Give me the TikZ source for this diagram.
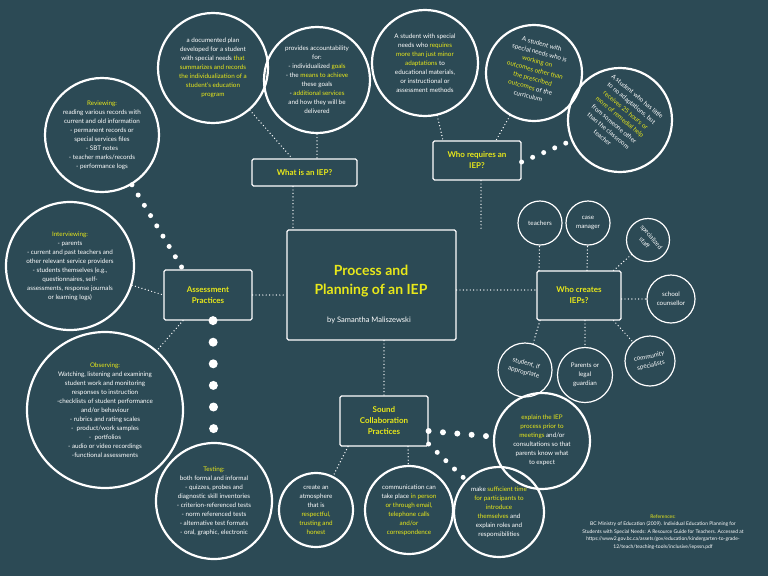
\documentclass[tikz,border=0pt]{standalone}
\usepackage{fontspec}
\setmainfont{Lato}
\begin{document}
\begin{tikzpicture}[x=1pt,y=-1pt,
  bubble/.style={circle,draw=white,line width=2.2pt,text=white,align=center,inner sep=0pt,font=\fontsize{6.3}{9}\selectfont},
  small/.style={circle,draw=white,line width=1.2pt,text=white,align=center,inner sep=0pt,font=\fontsize{6.3}{9}\selectfont},
  rtext/.style={text=white,align=center,font=\fontsize{6.3}{9}\selectfont},
  topic/.style={draw=white,line width=1.2pt,rounded corners=1.5pt,text=hl,align=center,font=\fontsize{8}{11}\bfseries\selectfont,inner sep=0pt},
  dotline/.style={draw=white,line width=1.4pt,line cap=round,dash pattern=on 0pt off 3.4pt},
  bigdots/.style={draw=white,line width=#1,line cap=round,dash pattern=on 0pt off 2.4*#1},
  bigdots/.default=6pt]
\definecolor{bg}{HTML}{2C4A55}
\definecolor{hl}{HTML}{E8E81A}
\fill[bg] (0,0) rectangle (768,576);
\useasboundingbox (0,0) rectangle (768,576);
\newcommand{\y}[1]{\textcolor{hl}{#1}}
% boxes
\node[topic,minimum width=169pt,minimum height=110pt] (c) at (371.5,285) {};
\node[text=hl,align=center,font=\fontsize{14}{19}\bfseries\selectfont] at (371,281) {Process and\\Planning of an IEP};
\node[text=white,font=\fontsize{7.5}{9}\selectfont] at (369,320) {by Samantha Maliszewski};
\node[topic,minimum width=105pt,minimum height=27pt] (what) at (304.5,172.5) {What is an IEP?};
\node[topic,minimum width=88pt,minimum height=39pt] (who) at (477,160.5) {Who requires an\\IEP?};
\node[topic,minimum width=84pt,minimum height=49pt] (create) at (579,295.5) {Who creates\\IEPs?};
\node[topic,minimum width=88pt,minimum height=50pt] (assess) at (208,295) {Assessment\\Practices};
\node[topic,minimum width=88pt,minimum height=50pt] (sound) at (384,421) {Sound\\Collaboration\\Practices};
% bubbles
\node[bubble,minimum size=110pt] (plan) at (213,68) {a documented plan\\developed for a student\\with special needs \y{that}\\\y{summarizes and records}\\\y{the individualization of a}\\\y{student's education}\\\y{program}};
\node[bubble,minimum size=106pt] (acc) at (317,80) {provides accountability\\for:\\- individualized \y{goals}\\- the \y{means to achieve}\\these goals\\- \y{additional services}\\and how they will be\\delivered};
\node[bubble,minimum size=106pt] (req) at (425,63) {A student with special\\needs who \y{requires}\\\y{more than just minor}\\\y{adaptations} to\\educational materials,\\or instructional or\\assessment methods};
\node[bubble,minimum size=96pt] (work) at (534,73) {};
\node[rtext,rotate=-15] at (535,70) {A student with\\special needs who is\\\y{working on}\\\y{outcomes other than}\\\y{the prescribed}\\\y{outcomes} of the\\curriculum};
\node[bubble,minimum size=104pt] (little) at (620,120) {};
\node[rtext,rotate=-40] at (620,117) {A student who has little\\to no adaptations, but\\\y{receives 25 hours or}\\\y{more of remedial help}\\from someone other\\than the classroom\\teacher};
\node[bubble,minimum size=114pt] (rev) at (102,135) {\y{Reviewing:}\\reading various records with\\current and old information\\- permanent records or\\special services files\\- SBT notes\\- teacher marks/records\\- performance logs};
\node[bubble,minimum size=128pt] (int) at (70,266) {\y{Interviewing:}\\- parents\\- current and past teachers and\\other relevant service providers\\- students themselves (e.g.,\\questionnaires, self-\\assessments, response journals\\or learning logs)};
\node[bubble,minimum size=156pt] (obs) at (105,410) {\y{Observing:}\\Watching, listening and examining\\student work and monitoring\\responses to instruction\\-checklists of student performance\\and/or behaviour\\- rubrics and rating scales\\- \ product/work samples\\- \ portfolios\\- audio or video recordings\\-functional assessments};
\node[bubble,minimum size=116pt] (test) at (214,501) {\y{Testing:}\\both formal and informal\\- quizzes, probes and\\diagnostic skill inventories\\- criterion-referenced tests\\- norm referenced tests\\- alternative test formats\\- oral, graphic, electronic};
\node[bubble,minimum size=74pt] (atm) at (316,510) {create an\\atmosphere\\that is\\\y{respectful,}\\\y{trusting and}\\\y{honest}};
\node[bubble,minimum size=88pt] (comm) at (409,510) {communication can\\take place \y{in person}\\\y{or through email,}\\\y{telephone calls}\\\y{and/or}\\\y{correspondence}};
\node[bubble,minimum size=96pt] (expl) at (542,441) {};
\node[bubble,minimum size=90pt] (time) at (499,512) {make \y{sufficient time}\\\y{for participants to}\\\y{introduce}\\\y{themselves} and\\explain roles and\\responsibilities};
\node[rtext] at (542,440) {\y{explain the IEP}\\\y{process prior to}\\\y{meetings} and/or\\consultations so that\\parents know what\\to expect};
% small circles
\node[small,minimum size=44pt] (tea) at (540,223) {teachers};
\node[small,minimum size=44pt] (cm) at (588,223) {case\\manager};
\node[small,minimum size=43pt] (ss) at (648,240) {};
\node[rtext,rotate=-50] at (648,240) {specialized\\staff};
\node[small,minimum size=48pt] (sc) at (671,299) {school\\counsellor};
\node[small,minimum size=50pt] (cs) at (650,361) {};
\node[rtext,rotate=12] at (650,361) {community\\specialists};
\node[small,minimum size=55pt] (par) at (585,375) {Parents or\\legal\\guardian};
\node[small,minimum size=54pt] (stu) at (525,370) {};
\node[rtext,rotate=-15] at (525,368) {student, if\\appropriate};
% references
\node[text=white,align=center,font=\fontsize{5}{7.5}\selectfont] (ref) at (663,532) {\y{References:}\\BC Ministry of Education (2009). Individual Education Planning for\\Students with Special Needs: A Resource Guide for Teachers. Accessed at\\https://www2.gov.bc.ca/assets/gov/education/kindergarten-to-grade-\\12/teach/teaching-tools/inclusive/iepssn.pdf};
% connectors
\draw[dotline] (plan) -- (what);
\draw[dotline] (acc) -- (acc|-what.north);
\draw[dotline] (what.south-|293,0) -- (c.north-|293,0);
\draw[dotline] (req) -- (who.north-|443,0);
\draw[dotline] (work) -- (who.north-|496,0);
\draw[dotline] (who.south-|481,0) -- (c.north-|481,0);
\draw[bigdots=5pt] (who.east|-0,162) -- (little);
\draw[dotline] (c.east|-0,290) -- (create.west|-0,290);
\draw[dotline] (assess.east) -- (c.west|-assess.east);
\draw[dotline] (int) -- (assess.west);
\draw[bigdots=5pt] (rev) -- (assess.north-|183,0);
\draw[dotline] (assess.south-|183,0) -- (obs);
\draw[bigdots=9pt] (assess.south-|213,0) -- (test);
\draw[dotline] (c.south-|384,0) -- (sound.north);
\draw[dotline] (sound.south-|348,0) -- (atm);
\draw[dotline] (sound.south-|408,0) -- (comm);
\draw[bigdots=6pt] (sound.east|-0,431) -- (expl);
\draw[bigdots=5pt] (sound.east|-0,444) -- (time);
\draw[dotline] (create.north-|539,0) -- (tea);
\draw[dotline] (create.north-|587,0) -- (cm);
\draw[dotline] (create.north east) ++(-8,0) -- (ss);
\draw[dotline] (create.east|-sc) -- (sc);
\draw[dotline] (create.south east) ++(-8,0) -- (cs);
\draw[dotline] (create.south-|585,0) -- (par);
\draw[dotline] (create.south-|540,0) -- (stu);
\end{tikzpicture}
\end{document}
